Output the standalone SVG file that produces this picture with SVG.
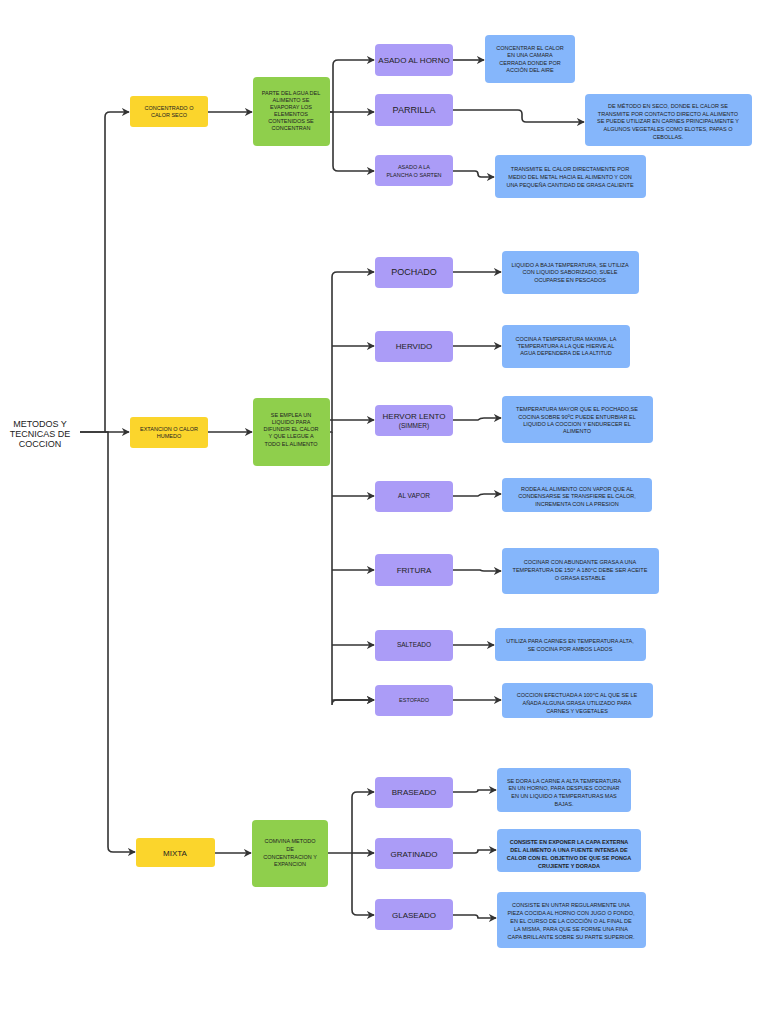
<svg xmlns="http://www.w3.org/2000/svg" width="768" height="1024" viewBox="0 0 768 1024">
<style>
text{font-family:"Liberation Sans",Arial,sans-serif;fill:#222;text-anchor:middle}
.y{fill:#fbd52c}.g{fill:#8fcf4c}.p{fill:#ab9cf7}.b{fill:#85b6fb}
.s{font-size:5.5px}.m{font-size:8px}.l{font-size:9px}
.c path{fill:none;stroke:#333;stroke-width:1.6}
</style>
<defs><marker id="a" viewBox="0 0 10 10" refX="9" refY="5" markerWidth="5" markerHeight="5" orient="auto"><path d="M0,0L10,5L0,10L3,5Z" fill="#333"/></marker></defs>
<rect width="768" height="1024" fill="#fff"/>
<g class="c" marker-end="url(#a)">
<path d="M80,432H105V117Q105,112 110,112H129" marker-end="url(#a)"/>
<path d="M80,432H129" marker-end="url(#a)"/>
<path d="M105,432H108V847Q108,852 113,852H135" marker-end="url(#a)"/>
<path d="M208,112H252" marker-end="url(#a)"/>
<path d="M208,432H252" marker-end="url(#a)"/>
<path d="M215,853H251" marker-end="url(#a)"/>
<path d="M330,112H333V65Q333,60 338,60H374" marker-end="url(#a)"/>
<path d="M330,112H374" marker-end="url(#a)"/>
<path d="M333,112V166Q333,171 338,171H374" marker-end="url(#a)"/>
<path d="M453,60H484" marker-end="url(#a)"/>
<path d="M453,110H518Q522,110 522,114V118Q522,122 526,122H584" marker-end="url(#a)"/>
<path d="M453,171H475Q478,171 478,174Q478,177 481,177H494" marker-end="url(#a)"/>
<path d="M330,432H332V277Q332,272 337,272H374" marker-end="url(#a)"/>
<path d="M332,346H374" marker-end="url(#a)"/>
<path d="M330,420H374" marker-end="url(#a)"/>
<path d="M332,432V705Q332,700 337,700H374" marker-end="url(#a)"/>
<path d="M332,496H374" marker-end="url(#a)"/>
<path d="M332,570H374" marker-end="url(#a)"/>
<path d="M332,645H374" marker-end="url(#a)"/>
<path d="M332,700H374" marker-end="url(#a)"/>
<path d="M453,272H501" marker-end="url(#a)"/>
<path d="M453,346H501" marker-end="url(#a)"/>
<path d="M453,420H478Q480,418 484,418H501" marker-end="url(#a)"/>
<path d="M453,496H478Q480,494 484,494H501" marker-end="url(#a)"/>
<path d="M453,570H480Q482,571 484,571H501" marker-end="url(#a)"/>
<path d="M453,645H494" marker-end="url(#a)"/>
<path d="M453,700H501" marker-end="url(#a)"/>
<path d="M328,853H352V797Q352,792 357,792H374" marker-end="url(#a)"/>
<path d="M352,853H374" marker-end="url(#a)"/>
<path d="M352,853V910Q352,915 357,915H374" marker-end="url(#a)"/>
<path d="M453,792H475Q478,792 478,790H496" marker-end="url(#a)"/>
<path d="M453,853H475Q478,853 478,850H496" marker-end="url(#a)"/>
<path d="M453,915H475Q478,915 478,918H496" marker-end="url(#a)"/>
</g>
<g id="root"><text class="l" x="40" y="427">METODOS Y</text><text class="l" x="40" y="437">TECNICAS  DE</text><text class="l" x="40" y="447">COCCION</text></g>
<g id="y1"><rect class="y" x="130" y="96" width="78" height="31" rx="3"/><text class="s" x="169" y="110">CONCENTRADO O</text><text class="s" x="169" y="117">CALOR SECO</text></g>
<g id="y2"><rect class="y" x="130" y="417" width="78" height="31" rx="3"/><text class="s" x="169" y="431">EXTANCION O CALOR</text><text class="s" x="169" y="438">HUMEDO</text></g>
<g id="y3"><rect class="y" x="136" y="838" width="79" height="29" rx="3"/><text class="m" x="175" y="856">MIXTA</text></g>
<g id="g1"><rect class="g" x="253" y="77" width="77" height="69" rx="4"/><text class="s" x="291" y="95">PARTE DEL AGUA DEL</text><text class="s" x="291" y="102">ALIMENTO SE</text><text class="s" x="291" y="109">EVAPORAY LOS</text><text class="s" x="291" y="116">ELEMENTOS</text><text class="s" x="291" y="123">CONTENIDOS SE</text><text class="s" x="291" y="130">CONCENTRAN</text></g>
<g id="g2"><rect class="g" x="253" y="398" width="77" height="68" rx="4"/><text class="s" x="291" y="417">SE EMPLEA UN</text><text class="s" x="291" y="424">LIQUIDO PARA</text><text class="s" x="291" y="431">DIFUNDIR EL CALOR</text><text class="s" x="291" y="438">Y QUE LLEGUE A</text><text class="s" x="291" y="446">TODO EL ALIMENTO</text></g>
<g id="g3"><rect class="g" x="252" y="820" width="76" height="67" rx="4"/><text class="s" x="290" y="843">COMVINA METODO</text><text class="s" x="290" y="851">DE</text><text class="s" x="290" y="859">CONCENTRACION Y</text><text class="s" x="290" y="866">EXPANCION</text></g>
<g id="p1"><rect class="p" x="375" y="44" width="78" height="32" rx="4"/><text class="m" x="414" y="63">ASADO AL HORNO</text></g>
<g id="p2"><rect class="p" x="375" y="94" width="78" height="32" rx="4"/><text class="l" x="414" y="113">PARRILLA</text></g>
<g id="p3"><rect class="p" x="375" y="155" width="78" height="31" rx="4"/><text class="s" x="414" y="169">ASADO A LA</text><text class="s" x="414" y="177">PLANCHA O SARTEN</text></g>
<g id="p4"><rect class="p" x="375" y="257" width="78" height="31" rx="4"/><text class="l" x="414" y="275">POCHADO</text></g>
<g id="p5"><rect class="p" x="375" y="331" width="78" height="31" rx="4"/><text class="m" x="414" y="349">HERVIDO</text></g>
<g id="p6"><rect class="p" x="375" y="405" width="78" height="31" rx="4"/><text class="m" x="414" y="419">HERVOR LENTO</text><text class="s" x="414" y="428" style="font-size:6.5px">(SIMMER)</text></g>
<g id="p7"><rect class="p" x="375" y="481" width="78" height="31" rx="4"/><text class="s" x="414" y="498" style="font-size:6.5px">AL VAPOR</text></g>
<g id="p8"><rect class="p" x="375" y="554" width="78" height="32" rx="4"/><text class="m" x="414" y="573">FRITURA</text></g>
<g id="p9"><rect class="p" x="375" y="630" width="78" height="31" rx="4"/><text class="s" x="414" y="647" style="font-size:6.5px">SALTEADO</text></g>
<g id="p10"><rect class="p" x="375" y="685" width="78" height="31" rx="4"/><text class="s" x="414" y="702">ESTOFADO</text></g>
<g id="p11"><rect class="p" x="375" y="777" width="78" height="31" rx="4"/><text class="m" x="414" y="795">BRASEADO</text></g>
<g id="p12"><rect class="p" x="375" y="838" width="78" height="31" rx="4"/><text class="m" x="414" y="857">GRATINADO</text></g>
<g id="p13"><rect class="p" x="375" y="899" width="78" height="31" rx="4"/><text class="m" x="414" y="918">GLASEADO</text></g>
<g id="b1"><rect class="b" x="485" y="35" width="90" height="48" rx="4"/><text class="s" x="530" y="50">CONCENTRAR EL CALOR</text><text class="s" x="530" y="57">EN UNA CAMARA</text><text class="s" x="530" y="65">CERRADA DONDE POR</text><text class="s" x="530" y="72">ACCIÓN DEL AIRE</text></g>
<g id="b2"><rect class="b" x="585" y="94" width="167" height="52" rx="4"/><text class="s" x="668" y="108">DE MÉTODO EN SECO, DONDE EL CALOR SE</text><text class="s" x="668" y="116">TRANSMITE POR CONTACTO DIRECTO AL ALIMENTO</text><text class="s" x="668" y="123">SE PUEDE UTILIZAR EN CARNES PRINCIPALMENTE Y</text><text class="s" x="668" y="131">ALGUNOS VEGETALES COMO ELOTES, PAPAS O</text><text class="s" x="668" y="139">CEBOLLAS.</text></g>
<g id="b3"><rect class="b" x="495" y="155" width="151" height="43" rx="4"/><text class="s" x="570" y="171">TRANSMITE EL CALOR DIRECTAMENTE POR</text><text class="s" x="570" y="179">MEDIO DEL METAL HACIA EL ALIMENTO Y CON</text><text class="s" x="570" y="187">UNA PEQUEÑA CANTIDAD DE GRASA CALIENTE</text></g>
<g id="b4"><rect class="b" x="502" y="251" width="137" height="43" rx="4"/><text class="s" x="570" y="267">LIQUIDO A BAJA TEMPERATURA, SE UTILIZA</text><text class="s" x="570" y="274">CON LIQUIDO SABORIZADO, SUELE</text><text class="s" x="570" y="282">OCUPARSE EN PESCADOS</text></g>
<g id="b5"><rect class="b" x="502" y="325" width="128" height="43" rx="4"/><text class="s" x="566" y="341">COCINA A TEMPERATURA MAXIMA, LA</text><text class="s" x="566" y="348">TEMPERATURA A LA QUE HIERVE AL</text><text class="s" x="566" y="355">AGUA DEPENDERA DE LA ALTITUD</text></g>
<g id="b6"><rect class="b" x="502" y="396" width="151" height="47" rx="4"/><text class="s" x="577" y="411">TEMPERATURA MAYOR QUE EL POCHADO,SE</text><text class="s" x="577" y="419">COCINA SOBRE 90ºC  PUEDE ENTURBIAR EL</text><text class="s" x="577" y="426">LIQUIDO LA COCCION Y ENDURECER EL</text><text class="s" x="577" y="433">ALIMENTO</text></g>
<g id="b7"><rect class="b" x="502" y="478" width="150" height="34" rx="4"/><text class="s" x="577" y="491">RODEA AL ALIMENTO CON VAPOR QUE  AL</text><text class="s" x="577" y="498">CONDENSARSE SE TRANSFIERE EL CALOR,</text><text class="s" x="577" y="506">INCREMENTA CON LA PRESION</text></g>
<g id="b8"><rect class="b" x="502" y="548" width="157" height="46" rx="4"/><text class="s" x="580" y="564">COCINAR CON ABUNDANTE GRASA A UNA</text><text class="s" x="580" y="572">TEMPERATURA DE 150° A 180°C  DEBE SER ACEITE</text><text class="s" x="580" y="580">O GRASA ESTABLE</text></g>
<g id="b9"><rect class="b" x="495" y="628" width="151" height="33" rx="4"/><text class="s" x="570" y="643">UTILIZA PARA CARNES EN TEMPERATURA ALTA,</text><text class="s" x="570" y="651">SE COCINA POR AMBOS LADOS</text></g>
<g id="b10"><rect class="b" x="502" y="683" width="151" height="35" rx="4"/><text class="s" x="577" y="697">COCCION EFECTUADA A 100°C AL QUE SE LE</text><text class="s" x="577" y="705">AÑADA ALGUNA GRASA  UTILIZADO PARA</text><text class="s" x="577" y="713">CARNES Y VEGETALES</text></g>
<g id="b11"><rect class="b" x="497" y="768" width="134" height="44" rx="4"/><text class="s" x="564" y="783">SE DORA LA CARNE A ALTA TEMPERATURA</text><text class="s" x="564" y="790">EN UN HORNO, PARA DESPUES COCINAR</text><text class="s" x="564" y="798">EN UN LIQUIDO A TEMPERATURAS MAS</text><text class="s" x="564" y="806">BAJAS.</text></g>
<g id="b12"><rect class="b" x="497" y="829" width="144" height="43" rx="4"/><text class="s" x="569" y="844" font-weight="bold">CONSISTE EN EXPONER LA CAPA EXTERNA</text><text class="s" x="569" y="852" font-weight="bold">DEL ALIMENTO A UNA FUENTE INTENSA DE</text><text class="s" x="569" y="860" font-weight="bold">CALOR CON EL OBJETIVO DE QUE SE PONGA</text><text class="s" x="569" y="868" font-weight="bold">CRUJIENTE Y DORADA</text></g>
<g id="b13"><rect class="b" x="497" y="892" width="149" height="56" rx="4"/><text class="s" x="571" y="907">CONSISTE EN UNTAR REGULARMENTE UNA</text><text class="s" x="571" y="915">PIEZA COCIDA AL HORNO CON JUGO O FONDO,</text><text class="s" x="571" y="923">EN EL CURSO DE LA COCCIÓN O AL FINAL DE</text><text class="s" x="571" y="931">LA MISMA, PARA QUE SE FORME UNA FINA</text><text class="s" x="571" y="939">CAPA BRILLANTE SOBRE SU PARTE SUPERIOR.</text></g>
</svg>
